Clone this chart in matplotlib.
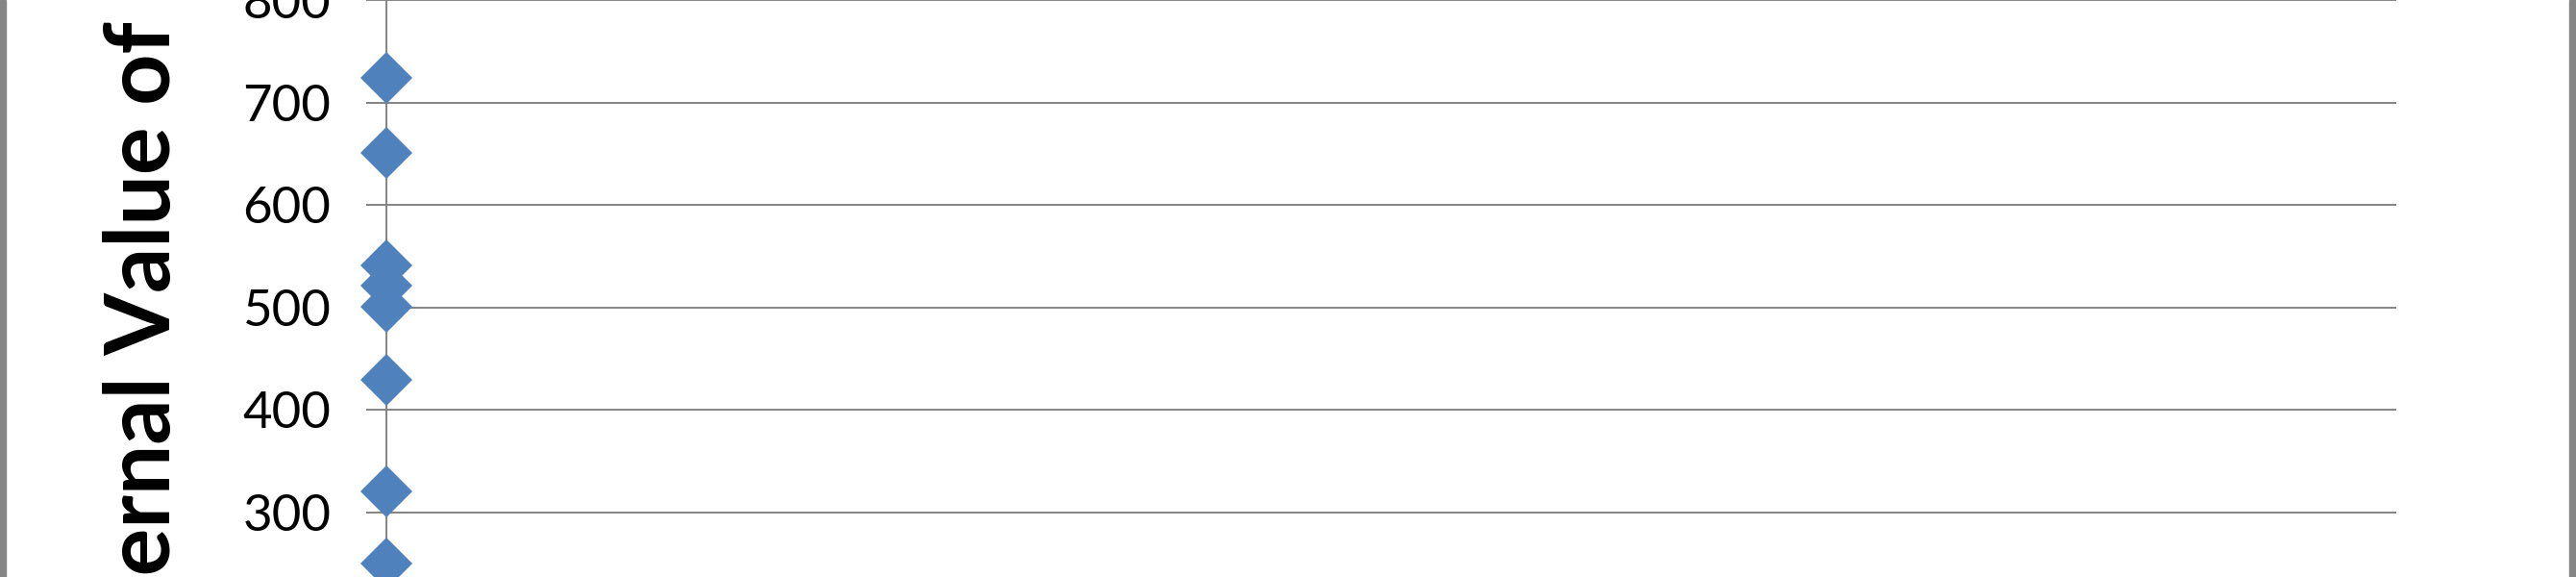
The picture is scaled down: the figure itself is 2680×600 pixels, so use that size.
import matplotlib
matplotlib.use("Agg")
import matplotlib.pyplot as plt
from matplotlib.patches import Rectangle

plt.rcParams["font.family"] = ["Lato", "DejaVu Sans"]

# データ
x_values = [0, 0, 0, 0, 0, 0, 0, 0]
y_values = [724, 651, 541, 521, 501, 429, 321, 250]
y_ticks = [300, 400, 500, 600, 700, 800]
y_label = "Internal Value of Stock"
y_label_visible = "Internal Value of"

W, H = 2680, 600
GRAY = "#868686"
BLUE = "#4F81BD"

fig = plt.figure(figsize=(W / 100, H / 100), dpi=100)
ax = fig.add_axes([402 / W, 0, (2493 - 402) / W, 1])
ax.set_xlim(0, 1)
ax.set_ylim(237.1, 798.4)

ax.plot(x_values, y_values, linestyle="none", marker="D", markersize=27,
        color=BLUE, markeredgewidth=0, clip_on=False, zorder=5)

ax.set_yticks(y_ticks)
ax.set_yticklabels([str(v) for v in y_ticks], fontsize=38)
ax.tick_params(axis="y", direction="out", length=15, width=1.44, color=GRAY, pad=26.5)
ax.set_xticks([])
ax.grid(axis="y", color=GRAY, linewidth=1.44)
ax.set_axisbelow(True)
for side in ["top", "right", "bottom"]:
    ax.spines[side].set_visible(False)
ax.spines["left"].set_color(GRAY)
ax.spines["left"].set_linewidth(1.44)

# 軸ラベル（一部のみ見えている）
label_size = 67
renderer = fig.canvas.get_renderer()
tmp = fig.text(0, 0, y_label_visible, fontsize=label_size, fontweight="bold")
prefix_w = tmp.get_window_extent(renderer).width
tmp.remove()
end_y = (H - 22) / H
fig.text(177 / W, end_y - prefix_w / H, y_label, fontsize=label_size, fontweight="bold",
         rotation=90, rotation_mode="anchor", ha="left", va="baseline")

# 枠線
fig.patches.append(Rectangle((0, 0), 6 / W, 1, transform=fig.transFigure,
                             color=GRAY, zorder=10))
fig.patches.append(Rectangle(((W - 7) / W, 0), 7 / W, 1, transform=fig.transFigure,
                             color=GRAY, zorder=10))

fig.savefig("out.png", dpi=100)
